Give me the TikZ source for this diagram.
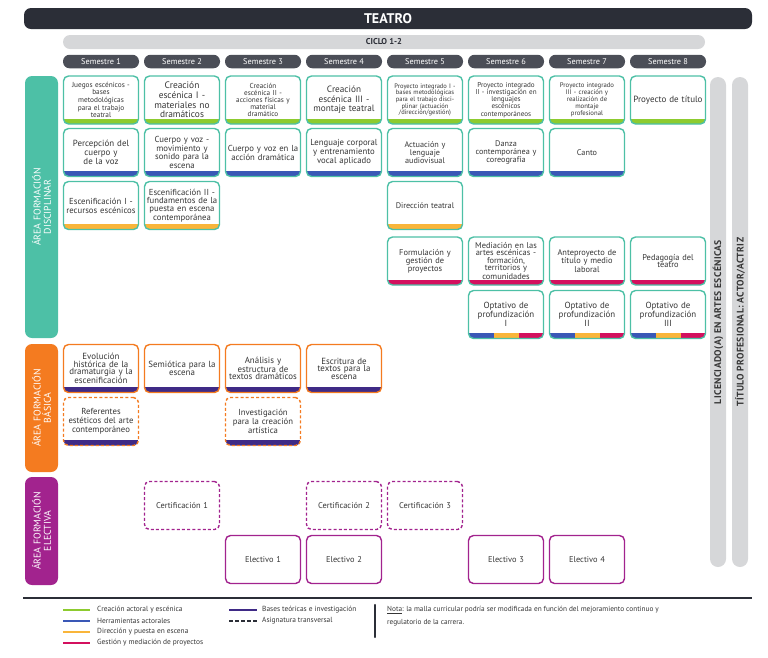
\documentclass[tikz,border=0pt]{standalone}
\usepackage{fontspec}
\setmainfont{PT Sans}
\usetikzlibrary{calc}
\definecolor{cteal}{HTML}{4DC0A6}
\definecolor{cgreen}{HTML}{8DCB2F}
\definecolor{cblue}{HTML}{3A58B6}
\definecolor{cyellow}{HTML}{F9B53A}
\definecolor{cmag}{HTML}{D3105E}
\definecolor{cindigo}{HTML}{3F2A86}
\definecolor{corange}{HTML}{F47B20}
\definecolor{cpurple}{HTML}{A2238E}
\definecolor{cdark}{HTML}{2B2E37}
\definecolor{cpill}{HTML}{4B4E57}
\definecolor{clgray}{HTML}{D6D7D9}
\definecolor{ctxt}{HTML}{363636}
\newcommand\fsz[2]{\fontsize{#1}{#2}\selectfont}
\begin{document}
\begin{tikzpicture}[x=1pt,y=-1pt,
  course/.style={draw=#1, line width=1.4pt, rounded corners=5pt, fill=white,
    minimum width=75pt, minimum height=48pt, text width=75pt, align=center,
    inner sep=0pt, text=ctxt, font=\fsz{8.6}{8.9}},
  stripc/.style={path picture={\fill[#1, sharp corners] ([yshift=-1pt]path picture bounding box.south west) rectangle ([yshift=5.5pt]path picture bounding box.south east);}},
  tri/.style={path picture={
    \path (path picture bounding box.south west) coordinate (psw)
          (path picture bounding box.south east) coordinate (pse);
    \fill[cblue, sharp corners] ($(psw)+(0,1)$) rectangle ($(psw)!1/3!(pse)+(0,-5.5)$);
    \fill[cyellow, sharp corners] ($(psw)!1/3!(pse)+(0,1)$) rectangle ($(psw)!2/3!(pse)+(0,-5.5)$);
    \fill[cmag, sharp corners] ($(psw)!2/3!(pse)+(0,1)$) rectangle ($(pse)+(0,-5.5)$);}},
  dash box/.style={dash pattern=on 3pt off 2.2pt},
  pill/.style={fill=cpill, rounded corners=6.5pt, minimum width=76pt, minimum height=13.5pt,
    inner sep=0pt, text=white, font=\fsz{8.3}{9}},
  area/.style={fill=#1, rounded corners=7pt, rotate=90, minimum height=33pt, inner sep=0pt,
    text=white, align=center, font=\fsz{9.8}{10.2}},
  sidebar/.style={fill=clgray, rounded corners=8pt, rotate=90, minimum width=490pt, minimum height=16pt,
    inner sep=0pt, text=ctxt, font=\fsz{9.6}{10}\bfseries\addfontfeature{LetterSpace=4}},
  legline/.style={line width=2.6pt},
  legtext/.style={anchor=west, inner sep=0pt, text=ctxt, font=\fsz{7.4}{7.6}},
]
\useasboundingbox (0,0) rectangle (768,657);

% header
\node[fill=cdark, rounded corners=7pt, minimum width=728pt, minimum height=21pt, inner sep=0pt,
  text=white, font=\fsz{14}{14}\bfseries] (title) at (388,18.5) {TEATRO};
\node[fill=clgray, rounded corners=7pt, minimum width=642pt, minimum height=14pt, inner sep=0pt,
  text=cdark, font=\fsz{8.5}{9}\bfseries] (ciclo) at (384,42) {CICLO 1-2};
\foreach \i in {1,...,8}{
  \node[pill] (sem\i) at ({101+81*(\i-1)},61.5) {Semestre \i};
}

% area labels
\node[area=cteal, minimum width=262pt] (adis) at (41.5,207) {ÁREA FORMACIÓN\\DISCIPLINAR};
\node[area=corange, minimum width=128pt] (abas) at (41.5,408) {ÁREA FORMACIÓN\\BÁSICA};
\node[area=cpurple, minimum width=108pt] (aele) at (41.5,531) {ÁREA FORMACIÓN\\ELECTIVA};

% side bars
\node[sidebar] (lic) at (718,322) {LICENCIADO(A) EN ARTES ESCÉNICAS};
\node[sidebar] (tit) at (740,322) {TÍTULO PROFESIONAL: ACTOR/ACTRIZ};

% row 1 (green)
\node[course=cteal, stripc=cgreen, font=\fsz{7.3}{7.7}] (d11) at (101,100) {Juegos escénicos -\\bases\\metodológicas\\para el trabajo\\teatral};
\node[course=cteal, stripc=cgreen, font=\fsz{9.4}{9.6}] (d12) at (182,100) {Creación\\escénica I -\\materiales no\\dramáticos};
\node[course=cteal, stripc=cgreen, font=\fsz{7.2}{7.2}] (d13) at (263,100) {Creación\\escénica II -\\acciones físicas y\\material\\dramático};
\node[course=cteal, stripc=cgreen, font=\fsz{9.2}{9.6}] (d14) at (344,100) {Creación\\escénica III -\\montaje teatral};
\node[course=cteal, stripc=cgreen, font=\fsz{6.5}{6.6}] (d15) at (425,100) {Proyecto integrado I -\\bases metodológicas\\para el trabajo disci-\\plinar (actuación\\/dirección/gestión)};
\node[course=cteal, stripc=cgreen, font=\fsz{7.1}{7.1}] (d16) at (506,100) {Proyecto integrado\\II - investigación en\\lenguajes\\escénicos\\contemporáneos};
\node[course=cteal, stripc=cgreen, font=\fsz{6.7}{7}] (d17) at (587,100) {Proyecto integrado\\III - creación y\\realización de\\montaje\\profesional};
\node[course=cteal, stripc=cgreen, font=\fsz{9}{9}] (d18) at (668,100) {Proyecto de título};

% row 2 (blue)
\node[course=cteal, stripc=cblue, font=\fsz{8.9}{8.9}] (d21) at (101,152.5) {Percepción del\\cuerpo y\\de la voz};
\node[course=cteal, stripc=cblue, font=\fsz{8.7}{8.4}] (d22) at (182,152.5) {Cuerpo y voz -\\movimiento y\\sonido para la\\escena};
\node[course=cteal, stripc=cblue, font=\fsz{8.7}{8}] (d23) at (263,152.5) {Cuerpo y voz en la\\acción dramática};
\node[course=cteal, stripc=cblue, font=\fsz{8.7}{8.8}] (d24) at (344,152.5) {Lenguaje corporal\\y entrenamiento\\vocal aplicado};
\node[course=cteal, stripc=cblue, font=\fsz{8.2}{8.2}] (d25) at (425,152.5) {Actuación y\\lenguaje\\audiovisual};
\node[course=cteal, stripc=cblue, font=\fsz{8.2}{8.2}] (d26) at (506,152.5) {Danza\\contemporánea y\\coreografía};
\node[course=cteal, stripc=cblue, font=\fsz{8.2}{8.2}] (d27) at (587,152.5) {Canto};

% row 3 (yellow)
\node[course=cteal, stripc=cyellow, font=\fsz{8.7}{9}] (d31) at (101,205.5) {Escenificación I -\\recursos escénicos};
\node[course=cteal, stripc=cyellow, font=\fsz{8.7}{8.3}] (d32) at (182,205.5) {Escenificación II -\\fundamentos de la\\puesta en escena\\contemporánea};
\node[course=cteal, stripc=cyellow, font=\fsz{8.2}{8.2}] (d35) at (425,205.5) {Dirección teatral};

% row 4 (magenta)
\node[course=cteal, stripc=cmag, font=\fsz{8.4}{8}] (d45) at (425,261) {Formulación y\\gestión de\\proyectos};
\node[course=cteal, stripc=cmag, font=\fsz{8.4}{7.3}] (d46) at (506,261) {Mediación en las\\artes escénicas -\\formación,\\territorios y\\comunidades};
\node[course=cteal, stripc=cmag, font=\fsz{8.4}{8.3}] (d47) at (587,261) {Anteproyecto de\\título y medio\\laboral};
\node[course=cteal, stripc=cmag, font=\fsz{8.4}{7.6}] (d48) at (668,261) {Pedagogía del\\teatro};

% row 5 (optativos)
\node[course=cteal, tri, font=\fsz{8.9}{7.3}] (d56) at (506,314.5) {Optativo de\\profundización\\I};
\node[course=cteal, tri, font=\fsz{8.9}{7.3}] (d57) at (587,314.5) {Optativo de\\profundización\\II};
\node[course=cteal, tri, font=\fsz{8.9}{7.3}] (d58) at (668,314.5) {Optativo de\\profundización\\III};

% basica
\node[course=corange, stripc=cindigo, font=\fsz{8.9}{7.6}] (b11) at (101,368.5) {Evolución\\histórica de la\\dramaturgia y la\\escenificación};
\node[course=corange, stripc=cindigo, font=\fsz{8.9}{8}] (b12) at (182,368.5) {Semiótica para la\\escena};
\node[course=corange, stripc=cindigo, font=\fsz{8.9}{7.4}] (b13) at (263,368.5) {Análisis y\\estructura de\\textos dramáticos};
\node[course=corange, stripc=cindigo, font=\fsz{8.9}{7.6}] (b14) at (344,368.5) {Escritura de\\textos para la\\escena};
\node[course=corange, dash box, stripc=cindigo, font=\fsz{8.7}{8.8}] (b21) at (101,421.5) {Referentes\\estéticos del arte\\contemporáneo};
\node[course=corange, dash box, stripc=cindigo, font=\fsz{8.7}{8}] (b23) at (263,421.5) {Investigación\\para la creación\\artística};

% electiva
\node[course=cpurple, dash box, font=\fsz{8.4}{8}] (e12) at (182,505.5) {Certificación 1};
\node[course=cpurple, dash box, font=\fsz{8.4}{8}] (e14) at (344,505.5) {Certificación 2};
\node[course=cpurple, dash box, font=\fsz{8.4}{8}] (e15) at (425,505.5) {Certificación 3};
\node[course=cpurple, font=\fsz{8.4}{8}] (e23) at (263,559.5) {Electivo 1};
\node[course=cpurple, font=\fsz{8.4}{8}] (e24) at (344,559.5) {Electivo 2};
\node[course=cpurple, font=\fsz{8.4}{8}] (e26) at (506,559.5) {Electivo 3};
\node[course=cpurple, font=\fsz{8.4}{8}] (e27) at (587,559.5) {Electivo 4};

% legend
\draw[cdark, line width=1.1pt] (23,598) -- (752,598);
\draw[legline, cgreen] (63,610) -- (90,610);
\node[legtext] (l1) at (97,610) {Creación actoral y escénica};
\draw[legline, cblue] (63,621) -- (90,621);
\node[legtext] (l2) at (97,621) {Herramientas actorales};
\draw[legline, cyellow] (63,632) -- (90,632);
\node[legtext] (l3) at (97,632) {Dirección y puesta en escena};
\draw[legline, cmag] (63,643) -- (90,643);
\node[legtext] (l4) at (97,643) {Gestión y mediación de proyectos};
\draw[legline, cindigo] (229,610) -- (257,610);
\node[legtext] (l5) at (262,610) {Bases teóricas e investigación};
\draw[cdark, line width=1.6pt, dash pattern=on 4pt off 2pt] (229,621) -- (257,621);
\node[legtext] (l6) at (262,621) {Asignatura transversal};
\draw[cdark, line width=2.2pt, line cap=round] (375,605) -- (375,637);
\node[legtext, font=\fsz{7.3}{7.5}] (n1) at (387,610) {\underline{Nota}: la malla curricular podría ser modificada en función del mejoramiento continuo y};
\node[legtext, font=\fsz{7.3}{7.5}] (n2) at (387,623) {regulatorio de la carrera.};
\end{tikzpicture}
\end{document}
